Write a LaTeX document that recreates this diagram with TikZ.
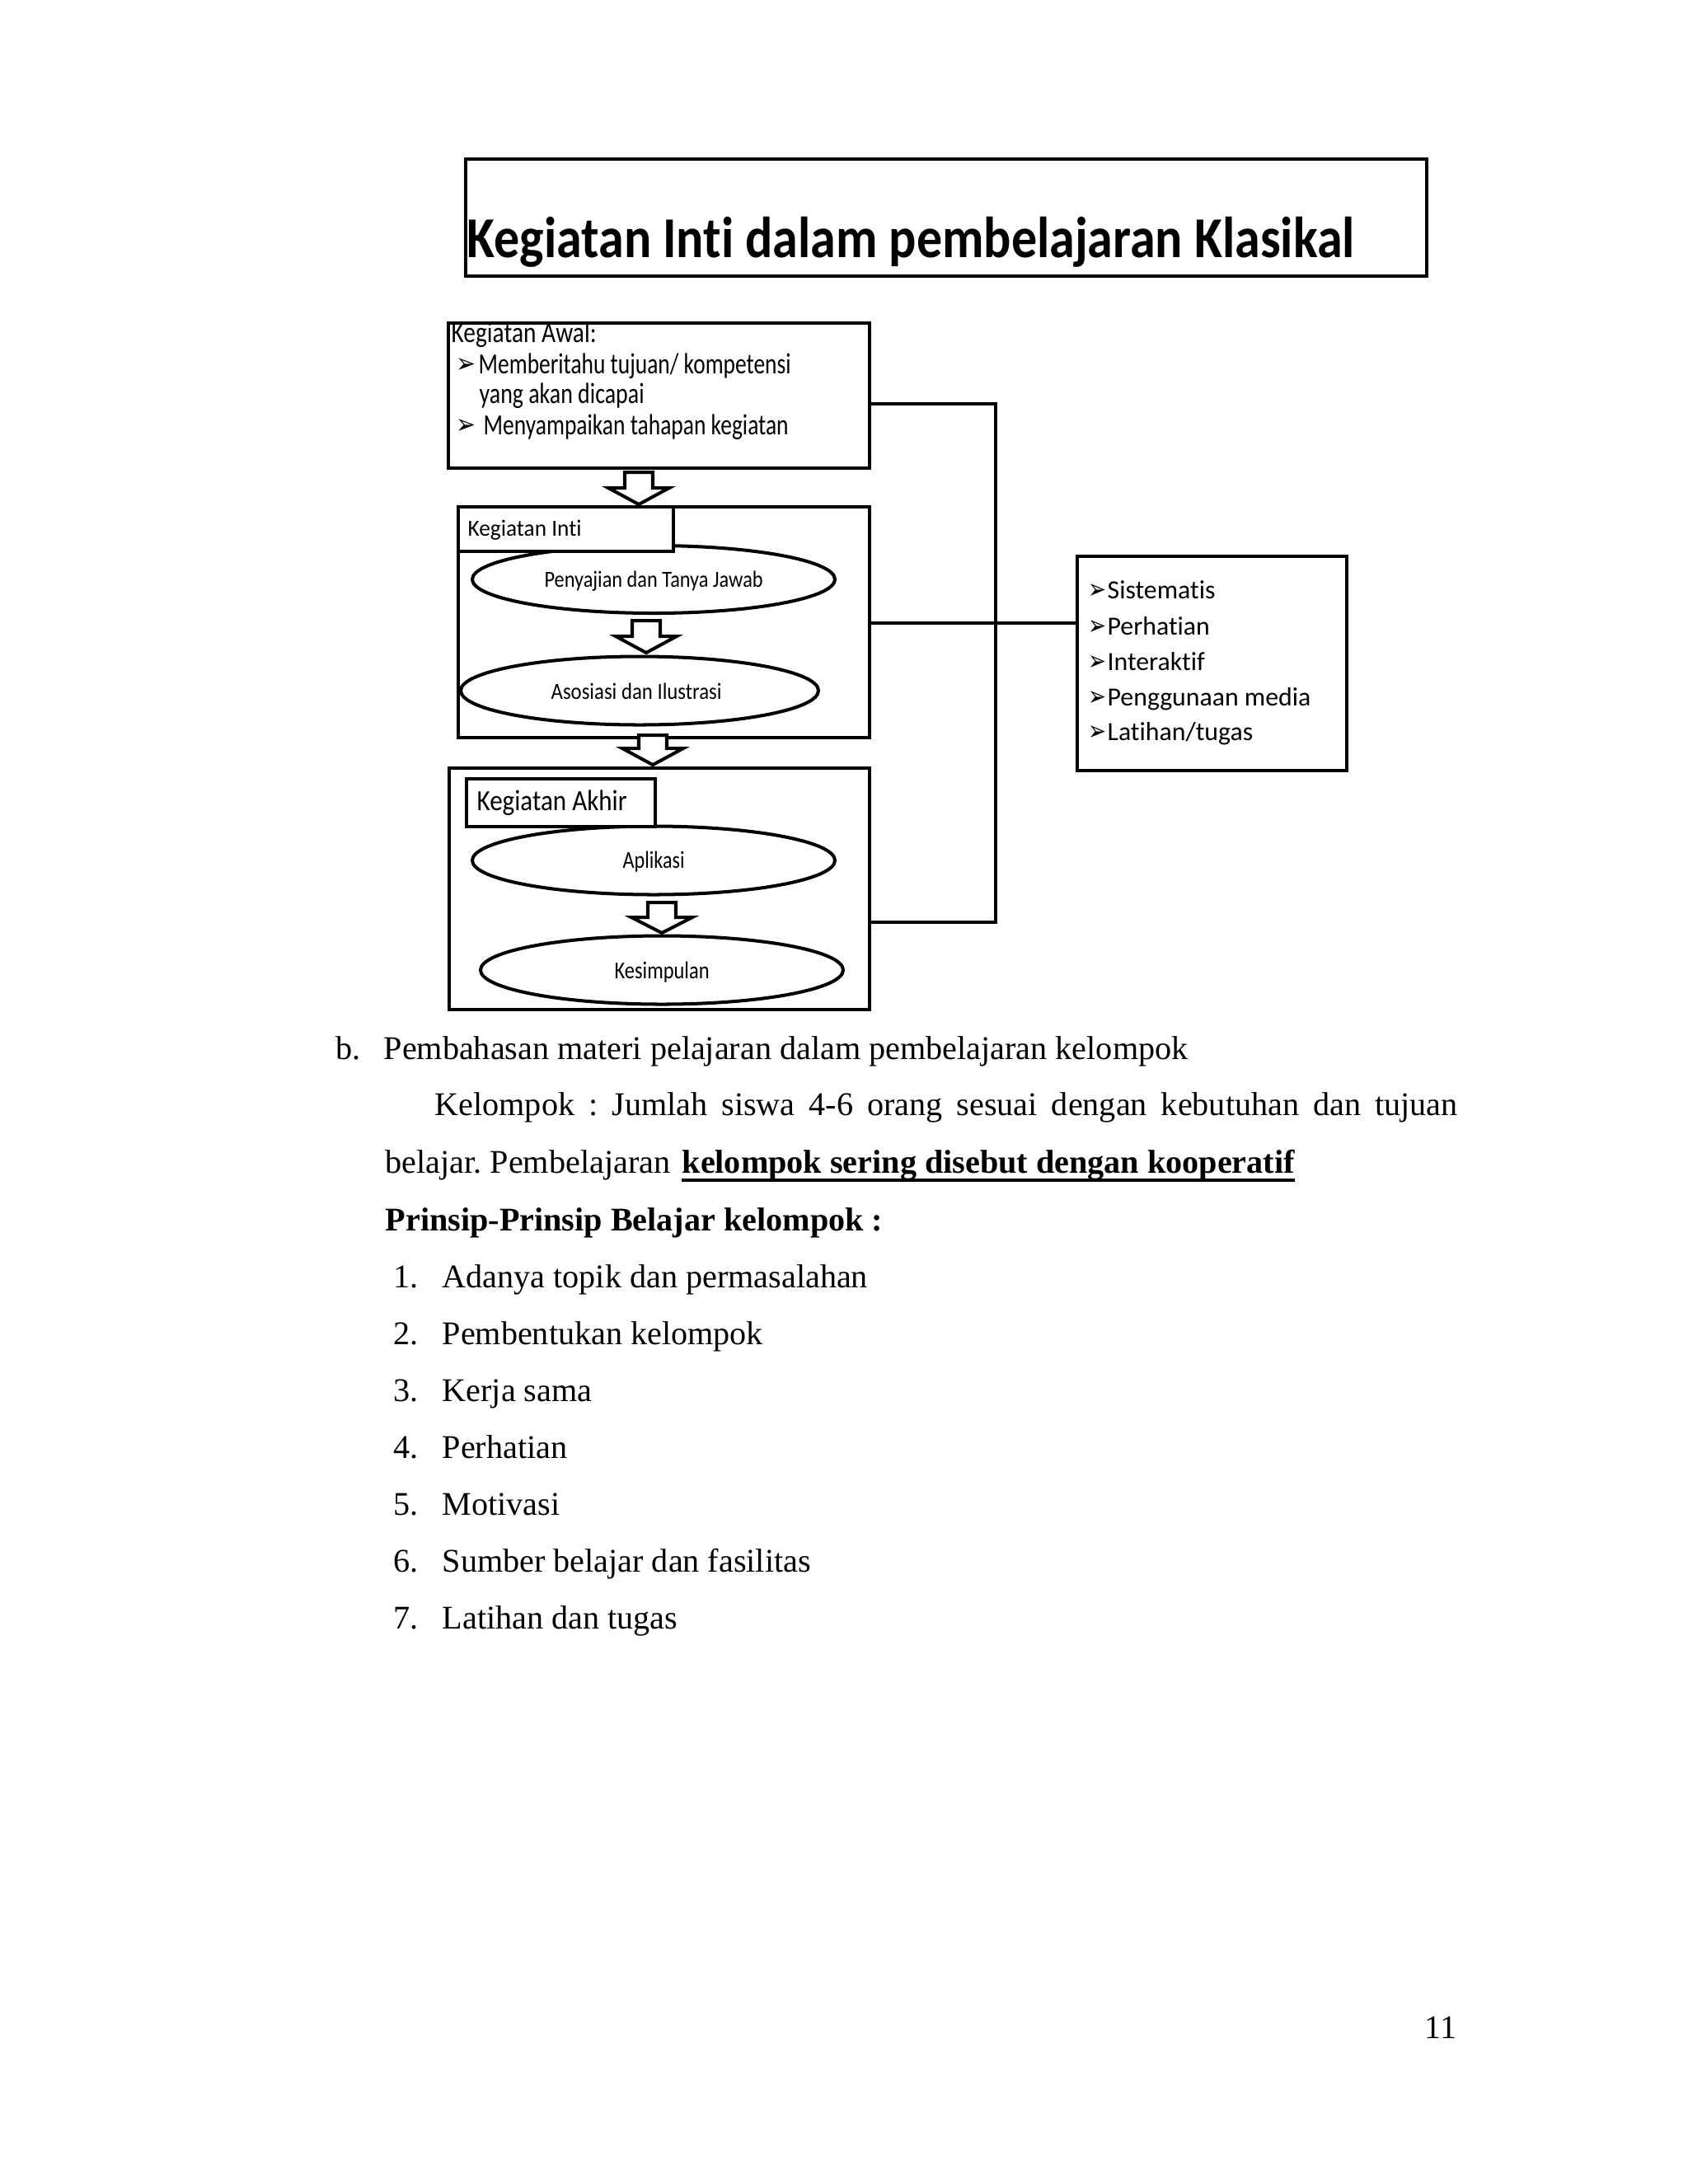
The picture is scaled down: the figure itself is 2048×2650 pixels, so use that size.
\documentclass[tikz,border=0pt]{standalone}
\usepackage{fontspec}
\usepackage{graphicx}
\setmainfont{Liberation Serif}
\newfontfamily\calfont[RawFeature={-liga;-clig;-dlig}]{Carlito}
\newfontfamily\dvfont{DejaVu Sans}
\usetikzlibrary{shapes.geometric}
\newdimen\pxu \pxu=0.29883pt
\newcommand\fitw[2]{\resizebox{#1\pxu}{\height}{#2}}
\newcommand\blk[4]{\draw[line width=1.2pt, fill=white] (#1-17,#2) -- (#1+17,#2) -- (#1+17,#3) -- (#1+37,#3) -- (#1,#4) -- (#1-37,#3) -- (#1-17,#3) -- cycle;}
\frenchspacing
\begin{document}
\begin{tikzpicture}[x=0.29883pt,y=-0.29883pt,
  box/.style={draw, line width=1.2pt, fill=white, inner sep=0, anchor=north west},
  ell/.style={draw, ellipse, line width=1.2pt, inner sep=0},
  txt/.style={inner sep=0, anchor=base west},
  awtxt/.style={txt, font=\calfont\fontsize{10.6}{12}\selectfont},
  smtxt/.style={txt, font=\calfont\fontsize{8.4}{10}\selectfont},
  mdtxt/.style={txt, font=\calfont\fontsize{8.8}{10}\selectfont},
  rttxt/.style={txt, font=\calfont\fontsize{9.5}{11}\selectfont},
  bul/.style={txt, font=\dvfont\fontsize{10}{11}\selectfont},
  body/.style={txt, font=\fontsize{12}{14}\selectfont},
  conn/.style={line width=1.2pt}
]
\useasboundingbox[fill=white] (0,0) rectangle (2048,2650);

% title
\node[box, minimum width=1166\pxu, minimum height=142\pxu] (title) at (563,191) {};
\node[txt, font=\calfont\bfseries\fontsize{21}{24}\selectfont] (titletxt) at (566,312) {\fitw{1077}{Kegiatan Inti dalam pembelajaran Klasikal}};

% Kegiatan Awal
\node[box, minimum width=511\pxu, minimum height=176\pxu] (awal) at (542,390) {};
\node[awtxt] (aw0) at (547,415) {\fitw{176}{Kegiatan Awal:}};
\node[bul] (awb1) at (553,452) {\fitw{24}{➢}};
\node[awtxt] (aw1) at (580,453) {\fitw{379}{Memberitahu tujuan/ kompetensi}};
\node[awtxt] (aw2) at (581,489) {\fitw{200}{yang akan dicapai}};
\node[bul] (awb2) at (553,526) {\fitw{24}{➢}};
\node[awtxt] (aw3) at (586,527) {\fitw{370}{Menyampaikan tahapan kegiatan}};

% Kegiatan Inti
\node[box, minimum width=499\pxu, minimum height=280\pxu] (inti) at (554,613) {};
\node[ell, minimum width=440\pxu, minimum height=82\pxu] (e1) at (793,703) {};
\node[box, minimum width=261\pxu, minimum height=54\pxu] (intilab) at (554,613) {};
\node[smtxt] (intitxt) at (567,650) {\fitw{138}{Kegiatan Inti}};
\node[smtxt] (e1txt) at (660,712) {\fitw{265}{Penyajian dan Tanya Jawab}};
\node[ell, minimum width=434\pxu, minimum height=83\pxu] (e2) at (776,838) {};
\node[smtxt] (e2txt) at (668,848) {\fitw{207}{Asosiasi dan Ilustrasi}};

% Kegiatan Akhir
\node[box, minimum width=510\pxu, minimum height=293\pxu] (akhir) at (543,930) {};
\node[ell, minimum width=440\pxu, minimum height=83\pxu] (e3) at (793,1044) {};
\node[box, minimum width=229\pxu, minimum height=58\pxu] (akhirlab) at (564,943) {};
\node[awtxt] (akhirtxt) at (578,983) {\fitw{182}{Kegiatan Akhir}};
\node[mdtxt] (e3txt) at (755,1053) {\fitw{75}{Aplikasi}};
\node[ell, minimum width=440\pxu, minimum height=83\pxu] (e4) at (803,1177) {};
\node[mdtxt] (e4txt) at (745,1187) {\fitw{115}{Kesimpulan}};

% block arrows
\blk{775}{573}{592}{612}
\blk{784}{753}{772}{792}
\blk{792}{892}{908}{928}
\blk{803}{1095}{1113}{1132}

% right box
\node[box, minimum width=327\pxu, minimum height=260\pxu] (right) at (1305,673) {};
\node[bul] (rb1) at (1320,726) {\fitw{22}{➢}};
\node[rttxt] (r1) at (1343,726) {Sistematis};
\node[bul] (rb2) at (1320,770) {\fitw{22}{➢}};
\node[rttxt] (r2) at (1343,770) {Perhatian};
\node[bul] (rb3) at (1320,813) {\fitw{22}{➢}};
\node[rttxt] (r3) at (1343,813) {Interaktif};
\node[bul] (rb4) at (1320,856) {\fitw{22}{➢}};
\node[rttxt] (r4) at (1343,856) {Penggunaan media};
\node[bul] (rb5) at (1320,898) {\fitw{22}{➢}};
\node[rttxt] (r5) at (1343,898) {Latihan/tugas};

% connectors
\coordinate (j1) at (1208,490);
\coordinate (j2) at (1208,1119);
\coordinate (j3) at (1208,756);
\draw[conn] (awal.east |- j1) -- (j1) -- (j2) -- (akhir.east |- j2);
\draw[conn] (inti.east |- j3) -- (right.west |- j3);

% body text
\node[body] (b) at (407,1285) {b.};
\node[body] (l1) at (465,1285) {Pembahasan materi pelajaran dalam pembelajaran kelompok};
\node[body] (l2) at (527,1353) {\makebox[1241\pxu][s]{Kelompok : Jumlah siswa 4-6 orang sesuai dengan kebutuhan dan tujuan}};
\node[body] (l3) at (467,1423) {belajar. Pembelajaran};
\node[body, font=\fontsize{12}{14}\selectfont\bfseries] (kop) at (827,1423) {kelompok sering disebut dengan kooperatif};
\draw[line width=1.2pt] ([yshift=-2.7pt]kop.base west) -- ([yshift=-2.7pt]kop.base east);
\node[body, font=\fontsize{12}{14}\selectfont\bfseries] (l4) at (467,1493) {Prinsip-Prinsip Belajar kelompok :};
\node[body] (n1) at (477,1562) {1.}; \node[body] (t1) at (536,1562) {Adanya topik dan permasalahan};
\node[body] (n2) at (477,1631) {2.}; \node[body] (t2) at (536,1631) {Pembentukan kelompok};
\node[body] (n3) at (477,1700) {3.}; \node[body] (t3) at (536,1700) {Kerja sama};
\node[body] (n4) at (477,1769) {4.}; \node[body] (t4) at (536,1769) {Perhatian};
\node[body] (n5) at (477,1838) {5.}; \node[body] (t5) at (536,1838) {Motivasi};
\node[body] (n6) at (477,1907) {6.}; \node[body] (t6) at (536,1907) {Sumber belajar dan fasilitas};
\node[body] (n7) at (477,1976) {7.}; \node[body] (t7) at (536,1976) {Latihan dan tugas};
\node[body] (pg) at (1728,2473) {11};
\end{tikzpicture}
\end{document}
